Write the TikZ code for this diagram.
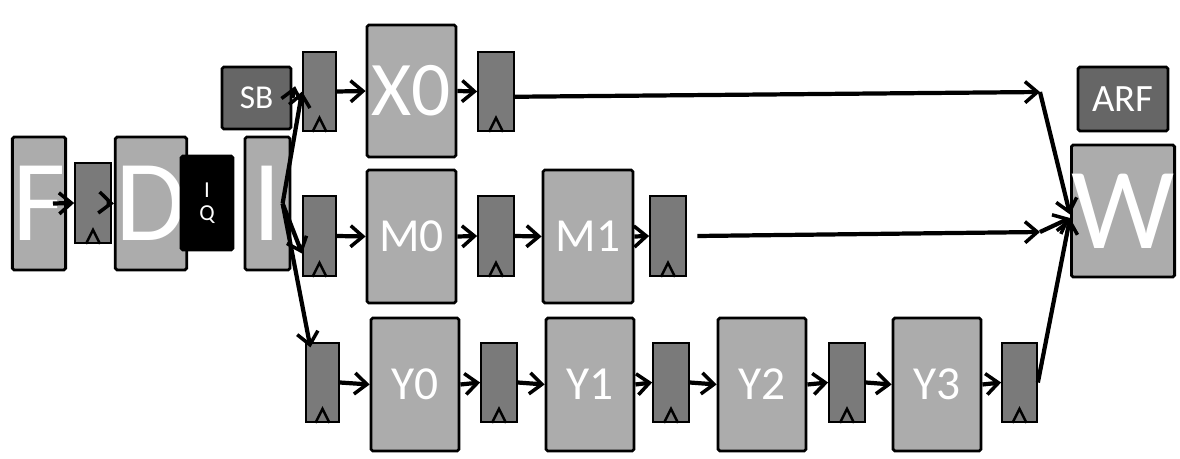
\documentclass[tikz,border=0pt]{standalone}
\usepackage{fontspec}
\setmainfont{Carlito}
\usetikzlibrary{arrows.meta}

\tikzset{
  blk/.style={draw=black, line width=1.6pt, rounded corners=1pt, fill=gray!65, text=white, inner sep=0pt},
  latch/.style={draw=black, line width=1pt, fill=black!52, inner sep=0pt},
  sbox/.style={blk, fill=black!60},
  qbox/.style={blk, fill=black, draw=black},
  flow/.style={line width=2.4pt, -{Straight Barb[length=7pt,width=12pt,line width=2pt]}},
  wire/.style={line width=2.4pt}
}
% block from pixel corners: name, x1, y1, x2, y2, style, text
\newcommand{\blk}[7]{%
  \node[#6, minimum width={(#4-#2)*0.02cm}, minimum height={(#5-#3)*0.02cm}]
    (#1) at ({(#2+#4)/2},{(#3+#5)/2}) {#7};}
\newcommand{\lat}[5]{%
  \blk{#1}{#2}{#3}{#4}{#5}{latch}{}
  \draw[line width=1.4pt] ([xshift=-4pt]#1.south) -- ([yshift=8pt]#1.south) -- ([xshift=4pt]#1.south);}

\begin{document}
\begin{tikzpicture}[x=0.02cm, y=-0.02cm]
    \useasboundingbox (0,0) rectangle (1180,459);

    \blk{F}{16}{137}{62}{270}{blk}{\fontsize{66}{66}\selectfont F}
    \lat{L0}{75}{163}{111}{243}
    \blk{D}{128}{137}{174}{270}{blk}{\fontsize{66}{66}\selectfont D}
    \blk{IQ}{181}{156}{233}{250}{qbox}{\shortstack{\fontsize{13}{15}\selectfont I\\[2pt]\fontsize{13}{15}\selectfont Q}}
    \blk{I}{245}{137}{290}{270}{blk}{\fontsize{66}{66}\selectfont I}
    \blk{SB}{222}{67}{291}{129}{sbox}{\fontsize{19}{19}\selectfont SB}

    % X pipe
    \lat{LX0}{303}{52}{336}{131}
    \blk{X0}{367}{25}{456}{157}{blk}{\fontsize{44}{44}\selectfont X0}
    \lat{LX1}{478}{52}{514}{131}

    % M pipe
    \lat{LM0}{303}{196}{336}{276}
    \blk{M0}{367}{170}{456}{303}{blk}{\fontsize{27}{27}\selectfont M0}
    \lat{LM1}{478}{196}{514}{276}
    \blk{M1}{543}{170}{633}{303}{blk}{\fontsize{27}{27}\selectfont M1}
    \lat{LM2}{650}{196}{686}{276}

    % Y pipe
    \lat{LY0}{306}{343}{339}{422}
    \blk{Y0}{371}{318}{459}{451}{blk}{\fontsize{27}{27}\selectfont Y0}
    \lat{LY1}{481}{343}{517}{422}
    \blk{Y1}{546}{318}{634}{451}{blk}{\fontsize{27}{27}\selectfont Y1}
    \lat{LY2}{653}{343}{689}{422}
    \blk{Y2}{718}{318}{806}{451}{blk}{\fontsize{27}{27}\selectfont Y2}
    \lat{LY3}{829}{343}{865}{422}
    \blk{Y3}{893}{318}{981}{451}{blk}{\fontsize{27}{27}\selectfont Y3}
    \lat{LY4}{1002}{343}{1037}{422}

    \blk{ARF}{1078}{67}{1168}{131}{sbox}{\fontsize{22}{22}\selectfont ARF}
    \blk{W}{1078}{145}{1168}{277}{blk}{\fontsize{66}{66}\selectfont W}

    \coordinate (xe) at (1040,92);
    \coordinate (me) at (1040,232);

    \draw[flow] ([xshift=-8pt]F.east) -- (L0.west);
    \draw[flow] ([xshift=-3pt]L0.east) -- (D.west);
    \draw[flow] (SB.east) -- ([xshift=-4pt,yshift=3pt]LX0.west);
    \draw[flow] ([xshift=-5pt]I.east) -- (LX0.west);
    \draw[flow] ([xshift=-5pt]I.east) -- ([yshift=-10pt]LM0.west);
    \draw[flow] ([xshift=-5pt]I.east) -- ([xshift=3pt,yshift=-3pt]LY0.north west);
    \draw[flow] (LX0.east) -- (X0.west);
    \draw[flow] (X0.east) -- (LX1.west);
    \draw[flow] (LM0.east) -- (M0.west);
    \draw[flow] (M0.east) -- (LM1.west);
    \draw[flow] (LM1.east) -- (M1.west);
    \draw[flow] (M1.east) -- (LM2.west);
    \draw[flow] (LY0.east) -- (Y0.west);
    \draw[flow] (Y0.east) -- (LY1.west);
    \draw[flow] (LY1.east) -- (Y1.west);
    \draw[flow] (Y1.east) -- (LY2.west);
    \draw[flow] (LY2.east) -- (Y2.west);
    \draw[flow] (Y2.east) -- (LY3.west);
    \draw[flow] (LY3.east) -- (Y3.west);
    \draw[flow] (Y3.east) -- (LY4.west);

    \draw[flow] ([yshift=-3pt]LX1.east) -- (xe);
    \draw[flow] ([xshift=6pt]LM2.east) -- (me);
    \draw[flow] (xe) -- ([yshift=-2pt]W.west);
    \draw[flow] (me) -- ([yshift=-4pt]W.west);
    \draw[flow] (LY4.east) -- ([yshift=-4pt]W.west);
\end{tikzpicture}
\end{document}
